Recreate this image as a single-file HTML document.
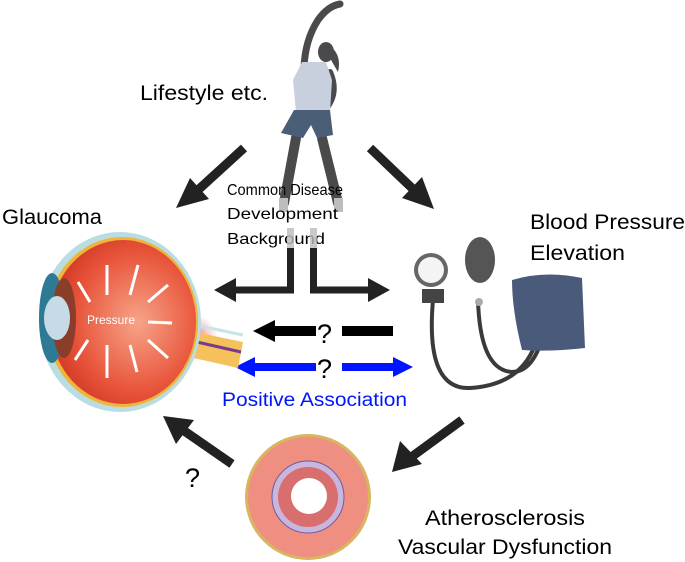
<!DOCTYPE html>
<html><head><meta charset="utf-8"><style>
html,body{margin:0;padding:0;background:#fff;}
svg{display:block;font-family:"Liberation Sans","DejaVu Sans",sans-serif;}
</style></head><body>
<svg width="685" height="562" viewBox="0 0 685 562" xmlns="http://www.w3.org/2000/svg">
<defs>
<radialGradient id="eyeg" cx="0.6" cy="0.5" r="0.6"><stop offset="0" stop-color="#f7a489"/><stop offset="0.7" stop-color="#e8553b"/><stop offset="1" stop-color="#d23a26"/></radialGradient>
<radialGradient id="glow" cx="0.5" cy="0.5" r="0.5"><stop offset="0" stop-color="#e0202a" stop-opacity="0.9"/><stop offset="1" stop-color="#ff6060" stop-opacity="0"/></radialGradient>
</defs>
<text x="140" y="100" font-size="21" textLength="128" lengthAdjust="spacingAndGlyphs" fill="#000">Lifestyle etc.</text>
<g stroke="#4a4a4c" stroke-linecap="round" fill="none">
<path d="M304 68 Q305 40 318 20 Q328 6 340 4" stroke-width="7"/>
<path d="M296 138 L284 203" stroke-width="10"/>
<path d="M322 138 L338 203" stroke-width="10"/>
<path d="M330 72 Q340 95 323 112" stroke-width="6"/>
</g>
<g fill="#4a4a4c">
<ellipse cx="326" cy="52" rx="8" ry="10"/>
<path d="M330 46 Q342 55 338 72 Q332 62 329 56Z"/>
</g>
<g fill="#bdbdbd"><rect x="279" y="198" width="9" height="14"/><rect x="334" y="198" width="9" height="14"/></g>
<path d="M302 62 L326 62 L332 80 L330 112 L296 112 L293 80Z" fill="#c7d0dc"/>
<path d="M294 110 L330 110 L333 135 L317 138 L311 125 L303 138 L281 133Z" fill="#4b5e78"/>
<g stroke="#222" stroke-width="9" fill="#222">
<line x1="244" y1="148" x2="198" y2="190"/>
<line x1="370" y1="148" x2="414" y2="190"/>
<line x1="232" y1="464" x2="180" y2="428"/>
<line x1="462" y1="420" x2="410" y2="458"/>
</g>
<g fill="#222">
<polygon points="176,208 190,178 209,199"/>
<polygon points="434,209 402,198 422,177"/>
<polygon points="163,416 194,420 176,444"/>
<polygon points="392,472 400,441 422,464"/>
</g>
<text x="227" y="195" font-size="16" textLength="116" lengthAdjust="spacingAndGlyphs" fill="#000">Common Disease</text>
<text x="227" y="219" font-size="16" textLength="111" lengthAdjust="spacingAndGlyphs" fill="#000">Development</text>
<text x="227" y="244" font-size="16" textLength="98" lengthAdjust="spacingAndGlyphs" fill="#000">Background</text>
<rect x="287" y="228" width="7" height="20" fill="#bbb" opacity="0.8"/>
<rect x="310" y="228" width="7" height="20" fill="#bbb" opacity="0.8"/>
<path d="M290.5 248 V290 H230" stroke="#222" stroke-width="7" fill="none"/>
<path d="M313.5 248 V290 H375" stroke="#222" stroke-width="7" fill="none"/>
<polygon points="214,290 236,278 236,302" fill="#222"/>
<polygon points="390,290 368,278 368,302" fill="#222"/>
<rect x="268" y="326" width="48" height="10" fill="#000"/>
<polygon points="253,331 275,320 275,342" fill="#000"/>
<rect x="342" y="326" width="51" height="10" fill="#000"/>
<text x="317" y="343" font-size="27" fill="#000">?</text>
<rect x="250" y="363" width="66" height="8" fill="#0015ff"/>
<polygon points="235,367 255,357 255,377" fill="#0015ff"/>
<rect x="342" y="363" width="56" height="8" fill="#0015ff"/>
<polygon points="413,367 393,357 393,377" fill="#0015ff"/>
<text x="317" y="378" font-size="27" fill="#000">?</text>
<text x="222" y="406" font-size="19" textLength="185" lengthAdjust="spacingAndGlyphs" fill="#0015ff">Positive Association</text>
<text x="2" y="224" font-size="21" textLength="100" lengthAdjust="spacingAndGlyphs" fill="#000">Glaucoma</text>
<ellipse cx="188" cy="338" rx="30" ry="25" fill="url(#glow)"/>
<path d="M185 330 L243 342 L238 368 L185 356Z" fill="#f5c15b"/>
<path d="M188 340 L241 352" stroke="#7a3a8a" stroke-width="3"/>
<path d="M195 325 L243 335" stroke="#c7e4e8" stroke-width="3"/>
<ellipse cx="120" cy="322" rx="81" ry="90" fill="#b9dde0"/>
<ellipse cx="122" cy="322" rx="76" ry="85" fill="#f0b43a"/>
<ellipse cx="123" cy="322" rx="73" ry="82" fill="url(#eyeg)"/>
<ellipse cx="52" cy="318" rx="13" ry="45" fill="#2e7a95"/>
<ellipse cx="64" cy="318" rx="12" ry="40" fill="#8a3e2a"/>
<ellipse cx="57" cy="318" rx="13" ry="22" fill="#c6dbe6"/>
<g stroke="#fff" stroke-width="3">
<line x1="107" y1="295" x2="107" y2="265"/><line x1="130" y1="295" x2="138" y2="265"/>
<line x1="148" y1="302" x2="168" y2="285"/><line x1="90" y1="302" x2="78" y2="282"/>
<line x1="148" y1="322" x2="172" y2="323"/>
<line x1="148" y1="340" x2="168" y2="358"/><line x1="130" y1="345" x2="137" y2="372"/>
<line x1="107" y1="345" x2="107" y2="378"/><line x1="88" y1="340" x2="75" y2="360"/>
</g>
<text x="87" y="324" font-size="12" fill="#fff">Pressure</text>
<text x="530" y="229" font-size="21" textLength="155" lengthAdjust="spacingAndGlyphs" fill="#000">Blood Pressure</text>
<text x="530" y="260" font-size="21" textLength="95" lengthAdjust="spacingAndGlyphs" fill="#000">Elevation</text>
<path d="M433 300 Q425 390 470 388 Q520 385 535 345" stroke="#3a3a3a" stroke-width="4" fill="none"/>
<path d="M478 300 Q480 370 512 372 Q530 372 540 345" stroke="#3a3a3a" stroke-width="4" fill="none"/>
<rect x="422" y="289" width="22" height="14" fill="#444"/>
<circle cx="431" cy="270" r="17" fill="#666"/><circle cx="431" cy="270" r="13" fill="#f4f4f4"/>
<ellipse cx="480" cy="260" rx="15" ry="23" fill="#555"/>
<circle cx="479" cy="302" r="4" fill="#aaa"/>
<path d="M512 280 Q545 270 582 278 L585 348 Q550 352 522 350 Q512 310 512 280Z" fill="#4a5a7a"/>
<circle cx="308" cy="497" r="63" fill="#d9b560"/>
<circle cx="308" cy="497" r="60" fill="#ef8f82"/>
<circle cx="308" cy="497" r="36" fill="#c9b6de" stroke="#6a5aa0" stroke-width="1"/>
<circle cx="308" cy="497" r="30" fill="#d96e6e"/>
<circle cx="309" cy="496" r="18" fill="#fff"/>
<text x="185" y="487" font-size="27" fill="#000">?</text>
<text x="425" y="525" font-size="21" textLength="160" lengthAdjust="spacingAndGlyphs" fill="#000">Atherosclerosis</text>
<text x="398" y="554" font-size="21" textLength="214" lengthAdjust="spacingAndGlyphs" fill="#000">Vascular Dysfunction</text>
</svg>
</body></html>
